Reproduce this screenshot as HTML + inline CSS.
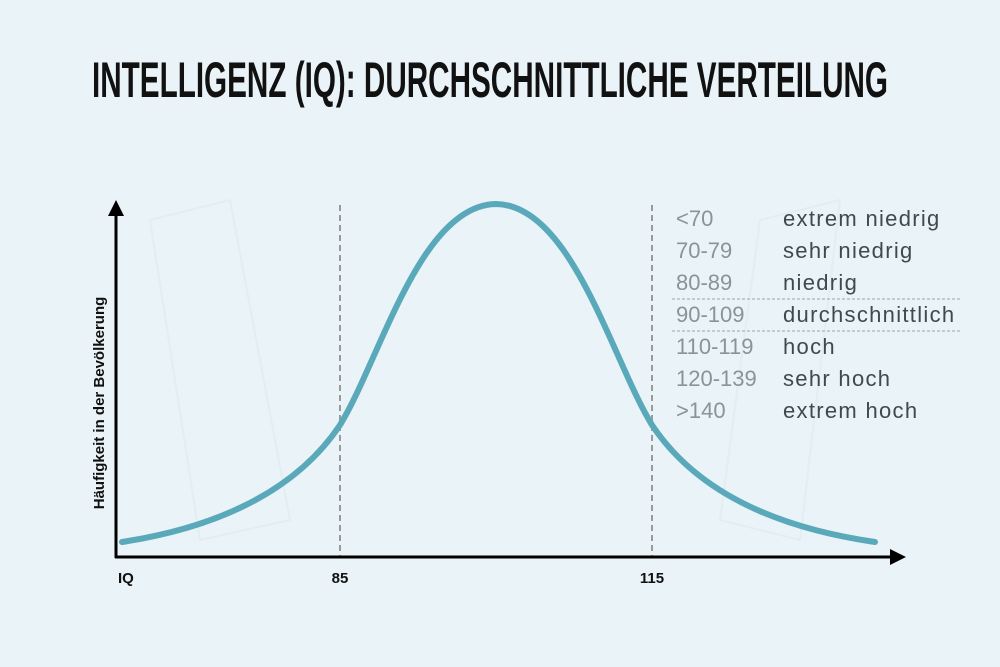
<!DOCTYPE html>
<html><head><meta charset="utf-8"><style>
html,body{margin:0;padding:0;background:#eaf3f7;}
svg{display:block;}
</style></head><body>
<svg width="1000" height="667" viewBox="0 0 1000 667" xmlns="http://www.w3.org/2000/svg">
<rect width="1000" height="667" fill="#eaf3f7"/>
<g fill="none" stroke="#e3edf2" stroke-width="2">
<path d="M150,220 L230,200 L290,520 L200,540 Z"/>
<path d="M760,220 L840,200 L800,540 L720,520 Z"/>
</g>
<text x="92" y="97" font-family="'Liberation Sans Narrow','Liberation Sans',sans-serif" font-weight="bold" font-size="50" textLength="796" lengthAdjust="spacingAndGlyphs" fill="#111">INTELLIGENZ (IQ): DURCHSCHNITTLICHE VERTEILUNG</text>
<g stroke="#9a9a9a" stroke-width="2" stroke-dasharray="6,4">
<line x1="340" y1="205" x2="340" y2="556"/>
<line x1="652" y1="205" x2="652" y2="556"/>
</g>
<path d="M122,542 C200,530 290,500 340,425 C380,360 420,205 496,204 C572,205 612,360 652,425 C702,500 792,530 875,542" fill="none" stroke="#5aa9ba" stroke-width="6" stroke-linecap="round"/>
<g stroke="#000" stroke-width="3" fill="none">
<line x1="116" y1="212" x2="116" y2="558"/>
<line x1="115" y1="557" x2="895" y2="557"/>
</g>
<polygon points="116,200 108,216 124,216" fill="#000"/>
<polygon points="906,557 890,549 890,565" fill="#000"/>
<g font-family="'Liberation Sans',sans-serif" font-weight="bold" font-size="15" fill="#111">
<text x="118" y="583">IQ</text>
<text x="340" y="583" text-anchor="middle">85</text>
<text x="652" y="583" text-anchor="middle">115</text>
<text transform="translate(104,403) rotate(-90)" text-anchor="middle">Häufigkeit in der Bevölkerung</text>
</g>
<g stroke="#aab4b8" stroke-width="1.2" stroke-dasharray="3,2">
<line x1="672" y1="299" x2="960" y2="299"/>
<line x1="672" y1="331" x2="960" y2="331"/>
</g>
<g font-family="'Liberation Sans',sans-serif" font-size="22">
<g fill="#8a9498">
<text x="676" y="226">&lt;70</text>
<text x="676" y="258">70-79</text>
<text x="676" y="290">80-89</text>
<text x="676" y="322">90-109</text>
<text x="676" y="354">110-119</text>
<text x="676" y="386">120-139</text>
<text x="676" y="418">&gt;140</text>
</g>
<g fill="#3e4a4f" letter-spacing="1.3">
<text x="783" y="226">extrem niedrig</text>
<text x="783" y="258">sehr niedrig</text>
<text x="783" y="290">niedrig</text>
<text x="783" y="322">durchschnittlich</text>
<text x="783" y="354">hoch</text>
<text x="783" y="386">sehr hoch</text>
<text x="783" y="418">extrem hoch</text>
</g>
</g>
</svg>
</body></html>
